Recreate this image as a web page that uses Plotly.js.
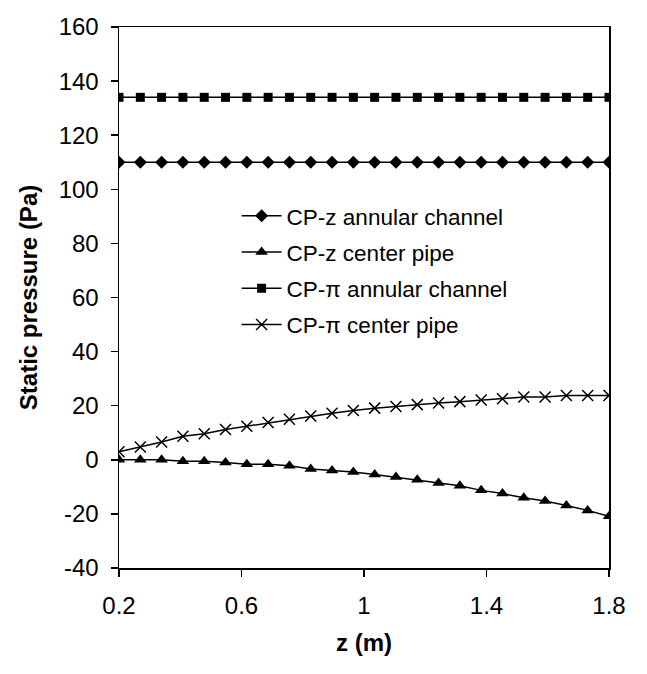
<!DOCTYPE html>
<html>
<head>
<meta charset="utf-8">
<script src="https://cdn.plot.ly/plotly-3.0.1.min.js"></script>
<style>html,body{margin:0;padding:0;background:#fff;}#chart{width:647px;height:674px;}</style>
</head>
<body>
<div id="chart"></div>
<script>
// 24 sample positions from 0.2 to 1.8 m
var zValues = [0.2, 0.2696, 0.3391, 0.4087, 0.4783, 0.5478, 0.6174, 0.687, 0.7565, 0.8261, 0.8957, 0.9652, 1.0348, 1.1043, 1.1739, 1.2435, 1.313, 1.3826, 1.4522, 1.5217, 1.5913, 1.6609, 1.7304, 1.8];

var cpzAnnular = [110, 110, 110, 110, 110, 110, 110, 110, 110, 110, 110, 110, 110, 110, 110, 110, 110, 110, 110, 110, 110, 110, 110, 110];
var cpzCenter = [0, 0, 0, -0.5, -0.5, -1, -1.6, -1.6, -2.2, -3.4, -4, -4.5, -5.4, -6.4, -7.4, -8.6, -9.6, -11.3, -12.5, -14, -15.2, -16.9, -18.7, -20.9];
var cppiAnnular = [134, 134, 134, 134, 134, 134, 134, 134, 134, 134, 134, 134, 134, 134, 134, 134, 134, 134, 134, 134, 134, 134, 134, 134];
var cppiCenter = [3, 4.7, 6.6, 8.7, 9.6, 11.2, 12.4, 13.8, 15, 16.2, 17.2, 18.2, 19.1, 19.7, 20.4, 21, 21.5, 22.1, 22.6, 23.2, 23.2, 23.8, 23.8, 23.8];

var seriesNames = ["CP-z annular channel", "CP-z center pipe", "CP-\u03c0 annular channel", "CP-\u03c0 center pipe"];
var xTicks = [0.2, 0.6, 1, 1.4, 1.8];
var yTicks = [-40, -20, 0, 20, 40, 60, 80, 100, 120, 140, 160];

var font = "Liberation Sans, Arial, sans-serif";
function tr(y, name, symbol, size, g) {
  var open = symbol.indexOf("open") >= 0;
  return {
    x: zValues, y: y, name: name, type: "scatter", mode: "lines+markers",
    legendgroup: g,
    line: {color: "#000", width: 1.5},
    marker: open ? {symbol: symbol, size: size, color: "#000", line: {color: "#000", width: 1.5}}
                 : {symbol: symbol, size: size, color: "#000", line: {width: 0}}
  };
}
var data = [
  tr(cpzAnnular, seriesNames[0], "diamond", 10, "a"),
  tr(cpzCenter, seriesNames[1], "triangle-up", 11, "b"),
  tr(cppiAnnular, seriesNames[2], "square", 9, "c"),
  tr(cppiCenter, seriesNames[3], "x-thin-open", 11, "d")
];
var axisCommon = {
  showline: true, linecolor: "#000", linewidth: 1.5, mirror: true,
  showgrid: false, zeroline: false, ticks: "outside", ticklen: 7, tickwidth: 1.5, tickcolor: "#000",
  tickfont: {family: font, size: 24, color: "#000"}
};
var layout = {
  width: 647, height: 674,
  margin: {l: 119, r: 38, t: 27, b: 106, pad: 0},
  paper_bgcolor: "#fff", plot_bgcolor: "#fff",
  showlegend: true,
  xaxis: Object.assign({}, axisCommon, {
    range: [0.2, 1.8], tickvals: xTicks, ticktext: xTicks.map(String),
    ticklabelstandoff: 9,
    title: {text: "z (m)", font: {family: font, size: 24, color: "#000", weight: "bold"}, standoff: 16}
  }),
  yaxis: Object.assign({}, axisCommon, {
    range: [-40, 160], tickvals: yTicks, ticktext: yTicks.map(String),
    ticklabelstandoff: 7,
    title: {text: "Static pressure (Pa)", font: {family: font, size: 24, color: "#000", weight: "bold"}, standoff: 14}
  }),
  legend: {
    x: 0.24, y: 0.69, xanchor: "left", yanchor: "top",
    bgcolor: "rgba(0,0,0,0)", borderwidth: 0,
    itemwidth: 40,
    font: {family: font, size: 22.5, color: "#000"},
    traceorder: "grouped", tracegroupgap: 4
  }
};
Plotly.newPlot("chart", data, layout, {displayModeBar: false, staticPlot: true});
</script>
</body>
</html>
